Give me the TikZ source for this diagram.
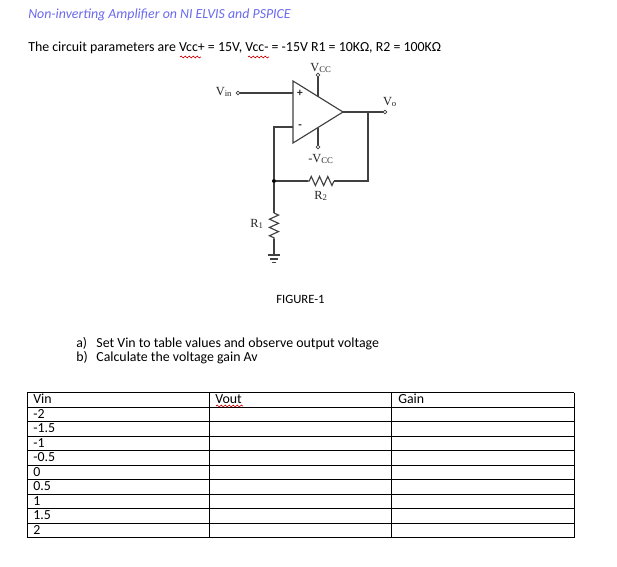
\documentclass[tikz,border=0pt]{standalone}
\usepackage{fontspec}
\setmainfont{Carlito}
\newfontfamily\circuitfont{Liberation Serif}
\usetikzlibrary{decorations.pathmorphing}
\definecolor{titleblue}{HTML}{6A6AF0}
\definecolor{wiregray}{HTML}{404040}
\tikzset{
  txt/.style={anchor=base west,inner sep=0pt,font=\fontsize{10.4}{13}\selectfont},
  lbl/.style={inner sep=0pt,text=black!85,font=\circuitfont\fontsize{9.3}{10}\selectfont},
  cell/.style={anchor=base west,inner sep=0pt,font=\fontsize{10.4}{12}\selectfont},
  wire/.style={draw=wiregray,line width=0.85pt},
  term/.style={circle,draw=wiregray,fill=white,line width=0.6pt,inner sep=0pt,minimum size=2.8pt},
  dotn/.style={circle,fill=black,inner sep=0pt,minimum size=3pt},
  res/.style={wire,decorate,decoration={zigzag,segment length=6.2pt,amplitude=3.4pt}},
  squig/.style={draw=red!80!black,line width=0.5pt,decorate,decoration={snake,segment length=3pt,amplitude=0.7pt}}
}
\begin{document}
\begin{tikzpicture}[x=0.75pt,y=-0.75pt]
  \useasboundingbox[fill=white] (0,0) rectangle (617,567);

  \node[txt,text=titleblue,font=\itshape\fontsize{10.4}{13}\selectfont] (title) at (28,19) {Non-inverting Amplifier on NI ELVIS and PSPICE};
  \node[txt] (params) at (28,52) {The circuit parameters are Vcc+ = 15V, Vcc- = -15V R1 = 10KΩ, R2 = 100KΩ};
  \draw[squig] (180,57) -- (201,57);
  \draw[squig] (248,57) -- (269,57);

  % amplifier
  \coordinate (ampA) at (293,81);
  \coordinate (ampB) at (293,143);
  \coordinate (ampC) at (343,112);
  \draw[wire,line join=miter] (ampA) -- (ampC) -- (ampB) -- cycle;
  \node[lbl,font=\bfseries\fontsize{8.5}{9}\selectfont] (plus) at (300,93) {+};
  \node[lbl,font=\bfseries\fontsize{8.5}{9}\selectfont] (minus) at (300,127) {-};

  \node[term] (vin) at (238,93) {};
  \node[term] (vcc) at (318,75) {};
  \node[term] (vee) at (318,147) {};
  \node[term] (vo)  at (385,112) {};
  \node[dotn] (j1)  at (274,181) {};
  \coordinate (ampP) at (293,93);
  \coordinate (ampN) at (293,127);
  \coordinate (ampU) at (318,96.5);
  \coordinate (ampD) at (318,127.5);
  \coordinate (fbT)  at (274,127);
  \coordinate (j2)   at (368,112);
  \coordinate (fbB)  at (368,181);
  \coordinate (r2a)  at (308,181);
  \coordinate (r2b)  at (334,181);
  \coordinate (r1a)  at (274,213);
  \coordinate (r1b)  at (274,239);
  \coordinate (gnd)  at (274,255);

  \node[lbl] (vinl) at (224,92) {V\textsubscript{in}};
  \node[lbl] (vccl) at (321,68) {V\textsubscript{CC}};
  \node[lbl] (veel) at (321,159) {-V\textsubscript{CC}};
  \node[lbl] (vol)  at (390,102) {V\textsubscript{o}};
  \node[lbl] (r1l)  at (257,224) {R\textsubscript{1}};
  \node[lbl] (r2l)  at (321,196) {R\textsubscript{2}};

  \draw[wire] (vin) -- (ampP);
  \draw[wire] (vcc) -- (ampU);
  \draw[wire] (vee) -- (ampD);
  \draw[wire] (ampC) -- (vo);
  \draw[wire] (j2) -- (fbB) -- (r2b);
  \draw[res] (r2b) -- (r2a);
  \draw[wire] (r2a) -- (j1);
  \draw[wire] (j1) -- (fbT) -- (ampN);
  \draw[wire] (j1) -- (r1a);
  \draw[res] (r1a) -- (r1b);
  \draw[wire] (r1b) -- (gnd);
  \draw[wire] (268,255) -- (280,255);
  \draw[wire] (270,259) -- (278,259);
  \draw[wire] (272,262.5) -- (276,262.5);

  \node[txt,font=\fontsize{9.5}{11}\selectfont] (fig) at (276,303) {FIGURE-1};
  \node[txt] (qa) at (76,347) {a)\hspace{7pt}Set Vin to table values and observe output voltage};
  \node[txt] (qb) at (76,361) {b)\hspace{6.5pt}Calculate the voltage gain Av};

  % table
  \foreach \y in {0,...,10}
    \draw[line width=0.75pt] (27,392.5+14.5*\y) -- (574,392.5+14.5*\y);
  \foreach \x in {27,209,391,574}
    \draw[line width=0.75pt] (\x,392.5) -- (\x,537.5);
  \node[cell] (hvin) at (33,403.5) {Vin};
  \node[cell] (hvout) at (215,403.5) {Vout};
  \node[cell] (hgain) at (398,403.5) {Gain};
  \draw[squig] (216,406) -- (243,406);
  \foreach \val [count=\i] in {-2,-1.5,-1,-0.5,0,0.5,1,1.5,2}
    \node[cell] (v\i) at (33,403.5+14.5*\i) {\val};
\end{tikzpicture}
\end{document}
